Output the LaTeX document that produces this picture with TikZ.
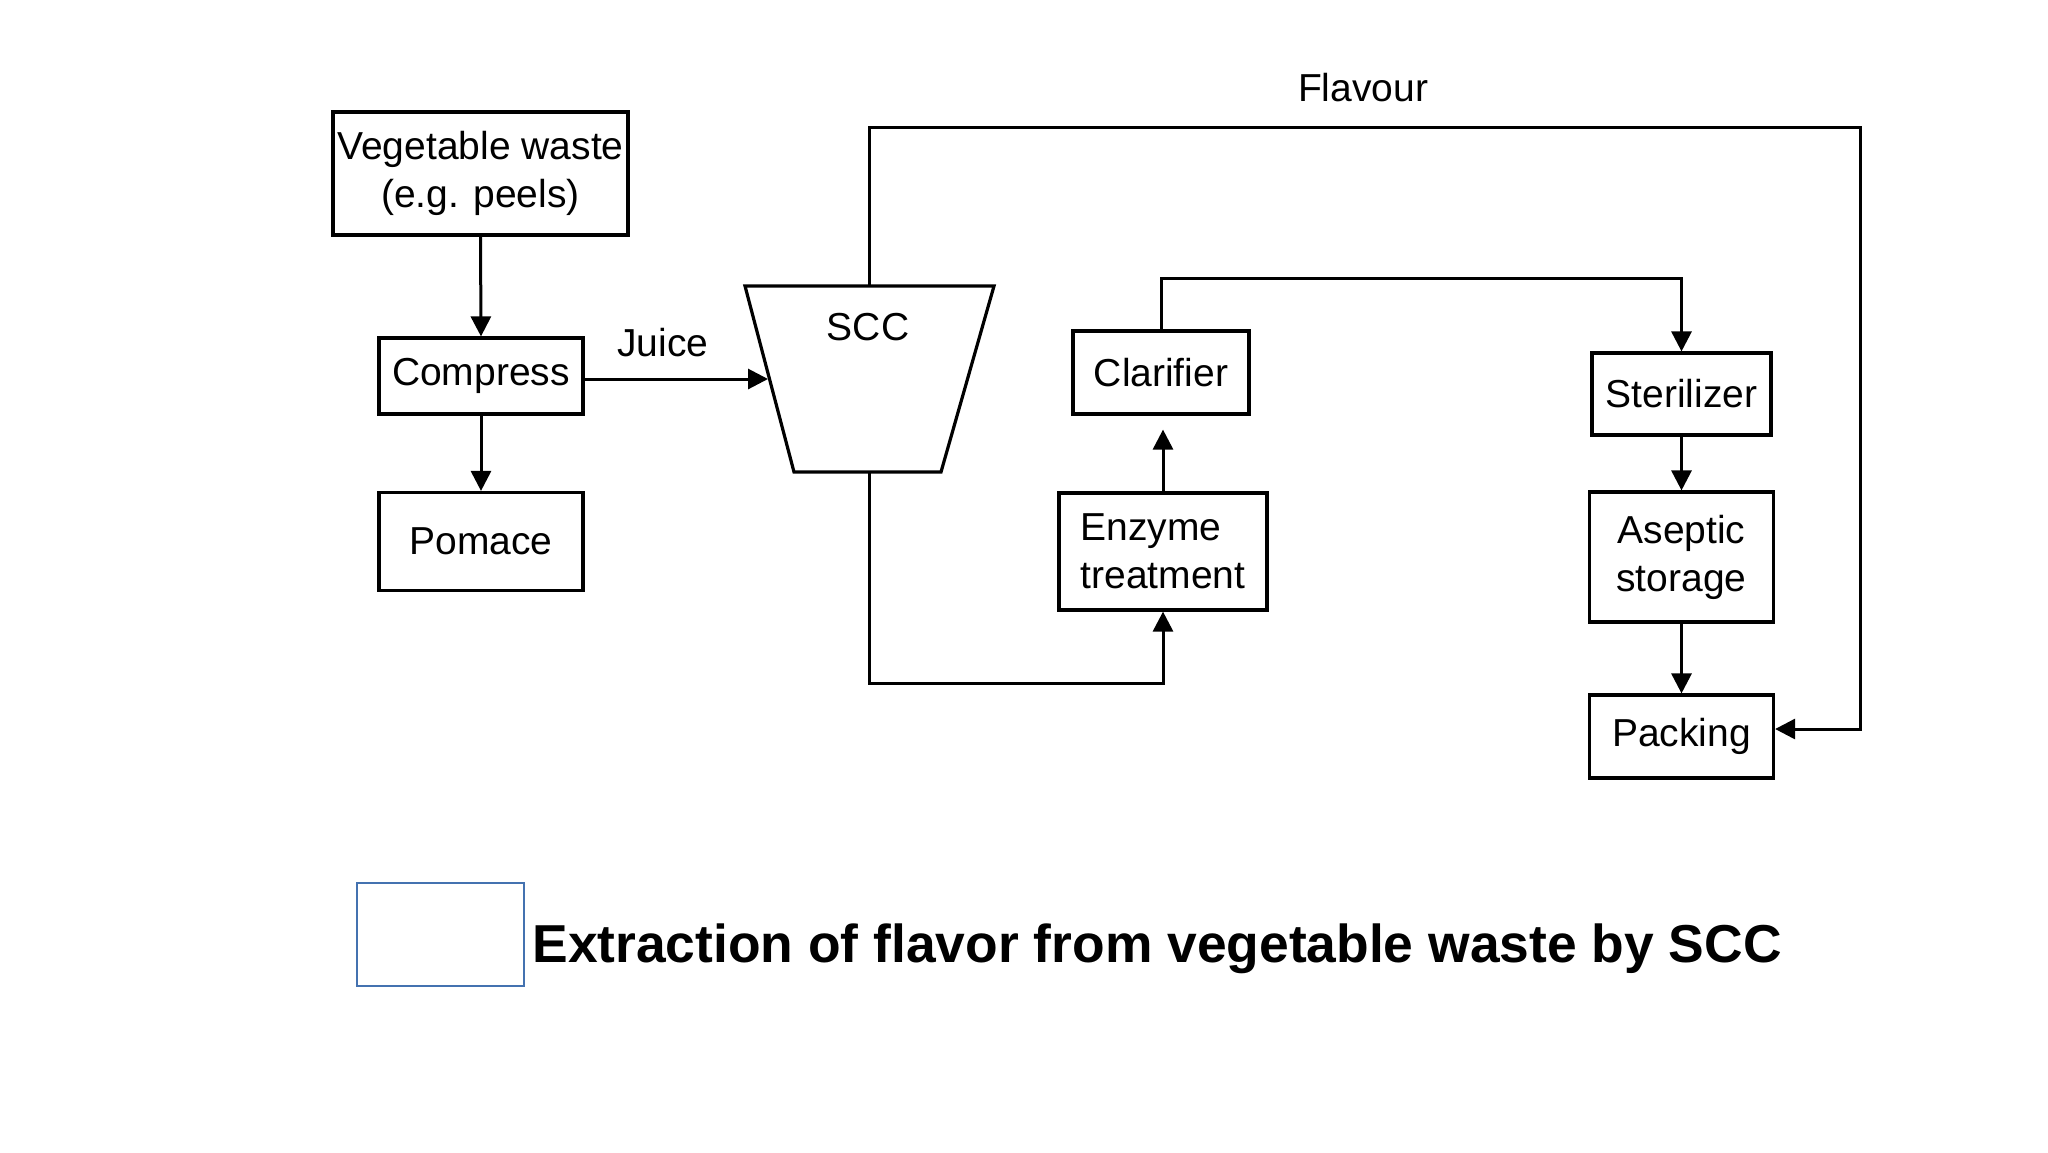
\documentclass[tikz,border=0pt]{standalone}
\usepackage{fontspec}
\setmainfont{Liberation Sans}
\usetikzlibrary{arrows.meta}
\definecolor{capblue}{RGB}{68,114,176}
\begin{document}
\begin{tikzpicture}[x=0.5pt,y=-0.5pt,
  box/.style={draw,line width=1.6pt,inner sep=0pt,font=\fontsize{19.5}{24}\selectfont,align=center},
  conn/.style={line width=1.5pt,-{Triangle[length=10pt,width=10pt]}},
  lbl/.style={font=\fontsize{19.5}{24}\selectfont,inner sep=0pt}]
\useasboundingbox[fill=white] (0,0) rectangle (2048,1152);
% boxes
\node[box,minimum width=147.5pt,minimum height=61.5pt] (veg) at (480.5,173.5) {Vegetable waste\\(e.g. peels)};
\node[box,minimum width=102pt,minimum height=38pt] (comp) at (481,376) {Compress};
\node[box,minimum width=102pt,minimum height=49pt] (pom) at (481,541.5) {Pomace};
\node[box,minimum width=88pt,minimum height=41.5pt] (clar) at (1161,372.5) {Clarifier};
\node[box,minimum width=104pt,minimum height=58.5pt,align=left] (enz) at (1163,551.5) {Enzyme\\treatment};
\node[box,minimum width=89.5pt,minimum height=41pt] (ster) at (1681.5,394) {Sterilizer};
\node[box,minimum width=92pt,minimum height=65pt] (asep) at (1681.5,557) {Aseptic\\storage};
\node[box,minimum width=92pt,minimum height=41.5pt] (pack) at (1681.5,736.5) {Packing};
% SCC trapezoid
\coordinate (tl) at (745,286);
\coordinate (tr) at (994,286);
\coordinate (br) at (941,472);
\coordinate (bl) at (794,472);
\draw[line width=1.6pt,line join=miter] (tl)--(tr)--(br)--(bl)--cycle;
\node[lbl] (scc) at (868,327) {SCC};
\coordinate (scctop) at (869,286);
\coordinate (sccbot) at (869,472);
\coordinate (sccin) at (768,379);
% labels
\node[lbl] (juice) at (663,343) {Juice};
\node[lbl] (flav) at (1363,88) {Flavour};
% connectors
\draw[conn] (veg.south) -- (comp.north);
\draw[conn] (comp.south) -- (pom.north);
\draw[conn] (comp.east |- sccin) -- (sccin);
\coordinate (bend1) at (869,683);
\draw[conn] (sccbot) -- (bend1) -| (enz.south);
\draw[conn,shorten >=7pt] (enz.north) -- (enz.north |- clar.south);
\coordinate (bend2) at (1161,278);
\draw[conn] (clar.north) -- (bend2) -| (ster.north);
\draw[conn] (ster.south) -- (asep.north);
\draw[conn] (asep.south) -- (pack.north);
\coordinate (ftop) at (869,127);
\coordinate (fright) at (1860,127);
\coordinate (fin) at (1860,729);
\draw[conn,line join=miter] (scctop) -- (ftop) -- (fright) -- (fin) -- (fin -| pack.east);
% caption
\node[draw=capblue,line width=1pt,minimum width=83.5pt,minimum height=51.5pt,inner sep=0pt] (capbox) at (440.5,934.5) {};
\node[font=\fontsize{26.7}{30}\selectfont\bfseries,anchor=base west,inner sep=0pt] (cap) at (532,962) {Extraction of flavor from vegetable waste by SCC};
\end{tikzpicture}
\end{document}
